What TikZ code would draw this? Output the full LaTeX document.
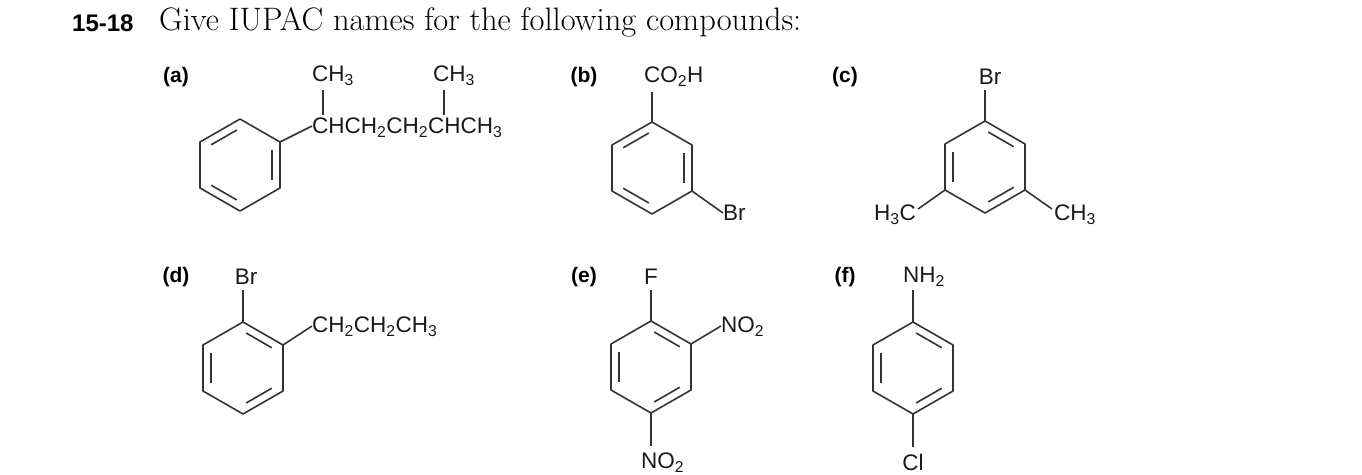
\documentclass[tikz,border=0pt]{standalone}
\usepackage{fontspec}
\newfontfamily\chemsans{Liberation Sans}
\usetikzlibrary{calc}
\newcommand\benz[3]{%
 \coordinate (#1) at (#2,#3);
 \coordinate (#1-1) at ($(#1)+(0,-46)$);
 \coordinate (#1-2) at ($(#1)+(40,-23)$);
 \coordinate (#1-3) at ($(#1)+(40,23)$);
 \coordinate (#1-4) at ($(#1)+(0,46)$);
 \coordinate (#1-5) at ($(#1)+(-40,23)$);
 \coordinate (#1-6) at ($(#1)+(-40,-23)$);
 \draw[bond] (#1-1)--(#1-2)--(#1-3)--(#1-4)--(#1-5)--(#1-6)--cycle;}
\newcommand\dbl[3]{\draw[bond] ($(#1)!0.8!($(#1-#2)!0.1!(#1-#3)$)$) -- ($(#1)!0.8!($(#1-#2)!0.9!(#1-#3)$)$);}
\tikzset{
 bond/.style={line width=1.6pt,color=black!80,line join=round},
 grp/.style={font=\chemsans\fontsize{22.5}{22.5}\selectfont,inner sep=0pt,text=black!90},
 lbl/.style={font=\chemsans\bfseries\fontsize{21}{21}\selectfont,inner sep=0pt}
}
\begin{document}
\begin{tikzpicture}[x=1pt,y=-1pt]
\useasboundingbox (0,0) rectangle (1362,474);
\node[anchor=west,font=\chemsans\bfseries\fontsize{24}{24}\selectfont,inner sep=0pt] (num) at (72,23) {15-18};
\node[anchor=west,font=\fontsize{32.5}{32.5}\selectfont,inner sep=0pt] (title) at (159,22) {Give IUPAC names for the following compounds:};
% labels
\node[lbl] (la) at (176,77) {(a)};
\node[lbl] (lb) at (584,77) {(b)};
\node[lbl] (lc) at (845,77) {(c)};
\node[lbl] (ld) at (176,277) {(d)};
\node[lbl] (le) at (584,277) {(e)};
\node[lbl] (lf) at (845,277) {(f)};
% (a)
\benz{a}{240}{165}
\dbl{a}{1}{6}\dbl{a}{2}{3}\dbl{a}{4}{5}
\node[grp,anchor=west] (ach) at (312,128) {CHCH\textsubscript{2}CH\textsubscript{2}CHCH\textsubscript{3}};
\node[grp,anchor=west] (am1) at (312,76) {CH\textsubscript{3}};
\node[grp,anchor=west] (am2) at (433,76) {CH\textsubscript{3}};
\draw[bond] (a-2) -- ($(ach.west)+(0,-2)$);
\draw[bond] ($(am1.south west)+(11,4)$) -- ($(ach.north west)+(11,-3)$);
\draw[bond] ($(am2.south west)+(11,4)$) -- ($(ach.north west)+(132,-3)$);
% (b)
\benz{b}{652}{168}
\dbl{b}{1}{6}\dbl{b}{2}{3}\dbl{b}{4}{5}
\node[grp,anchor=west] (bco) at (644,77) {CO\textsubscript{2}H};
\node[grp,anchor=west] (bbr) at (723,213) {Br};
\draw[bond] (b-1) -- (652,92);
\draw[bond] (b-3) -- (bbr.west);
% (c)
\benz{c}{985}{167}
\dbl{c}{5}{6}\dbl{c}{1}{2}\dbl{c}{3}{4}
\node[grp] (cbr) at (990,77) {Br};
\node[grp,anchor=east] (cme1) at (916,215) {H\textsubscript{3}C};
\node[grp,anchor=west] (cme2) at (1054,215) {CH\textsubscript{3}};
\draw[bond] (c-1) -- (985,90);
\draw[bond] (c-5) -- ($(cme1.east)+(2,-6)$);
\draw[bond] (c-3) -- ($(cme2.west)+(-2,-6)$);
% (d)
\benz{d}{243}{368}
\dbl{d}{1}{2}\dbl{d}{5}{6}\dbl{d}{3}{4}
\node[grp] (dbr) at (246,277) {Br};
\node[grp,anchor=west] (dpr) at (312,327) {CH\textsubscript{2}CH\textsubscript{2}CH\textsubscript{3}};
\draw[bond] (d-1) -- (243,290);
\draw[bond] (d-2) -- ($(dpr.west)+(0,-1)$);
% (e)
\benz{e}{651}{367}
\dbl{e}{1}{2}\dbl{e}{5}{6}\dbl{e}{3}{4}
\node[grp] (ef) at (651,277) {F};
\node[grp,anchor=west] (eno1) at (721,327) {NO\textsubscript{2}};
\node[grp,anchor=west] (eno2) at (641,463) {NO\textsubscript{2}};
\draw[bond] (e-1) -- (651,290);
\draw[bond] (e-2) -- ($(eno1.west)+(0,-1)$);
\draw[bond] (e-4) -- (651,446);
% (f)
\benz{f}{913}{368}
\dbl{f}{1}{2}\dbl{f}{5}{6}\dbl{f}{3}{4}
\node[grp,anchor=west] (fnh) at (903,277) {NH\textsubscript{2}};
\node[grp] (fcl) at (913,462) {Cl};
\draw[bond] (f-1) -- (913,290);
\draw[bond] (f-4) -- (913,447);
\end{tikzpicture}
\end{document}
